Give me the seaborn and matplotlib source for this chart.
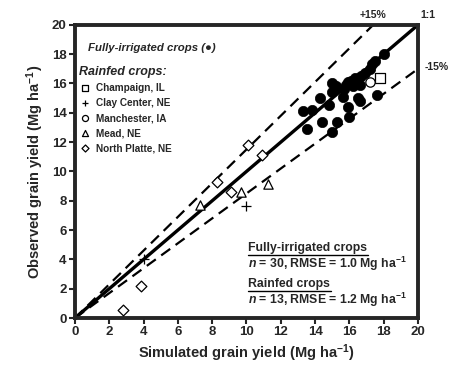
import numpy as np
import pandas as pd
import matplotlib
matplotlib.use("Agg")
import matplotlib.pyplot as plt
import seaborn as sns

# simulated vs observed grain yield (Mg/ha)
irr_sim = [18.0, 17.5, 17.3, 17.2, 16.9, 16.7, 16.3, 16.1, 15.9, 15.8,
           15.0, 15.7, 15.0, 14.3, 15.6, 16.5, 16.6, 17.6, 14.8, 15.9,
           13.3, 13.8, 14.4, 15.3, 16.0, 13.5, 15.0, 16.2, 15.2, 16.6]
irr_obs = [18.0, 17.5, 17.3, 17.0, 16.7, 16.5, 16.4, 16.2, 16.1, 15.9,
           16.0, 15.6, 15.4, 15.0, 15.1, 15.0, 14.8, 15.2, 14.5, 14.4,
           14.1, 14.2, 13.4, 13.4, 13.7, 12.9, 12.7, 15.8, 15.8, 15.9]

sites = ["Champaign, IL", "Clay Center, NE", "Manchester, IA", "Mead, NE", "North Platte, NE"]
rain_site = ["Champaign, IL",
             "Clay Center, NE", "Clay Center, NE",
             "Manchester, IA",
             "Mead, NE", "Mead, NE", "Mead, NE",
             "North Platte, NE", "North Platte, NE", "North Platte, NE",
             "North Platte, NE", "North Platte, NE", "North Platte, NE"]
rain_sim = [17.8, 10.0, 4.0, 17.2, 7.3, 9.7, 11.25, 2.8, 3.85, 8.3, 9.1, 10.1, 10.9]
rain_obs = [16.4, 7.65, 4.0, 16.1, 7.7, 8.6, 9.15, 0.55, 2.2, 9.3, 8.6, 11.8, 11.1]
site_markers = {"Champaign, IL": "s", "Clay Center, NE": "+", "Manchester, IA": "o",
                "Mead, NE": "^", "North Platte, NE": "D"}

irr = pd.DataFrame({"sim": irr_sim, "obs": irr_obs})
rain = pd.DataFrame({"site": rain_site, "sim": rain_sim, "obs": rain_obs})

sns.set_style("ticks")
plt.rcParams["font.family"] = ["Liberation Sans", "DejaVu Sans"]
plt.rcParams["font.weight"] = "bold"
plt.rcParams["mathtext.fontset"] = "custom"
plt.rcParams["mathtext.rm"] = "Liberation Sans:bold"
plt.rcParams["mathtext.it"] = "Liberation Sans:bold:italic"
plt.rcParams["mathtext.bf"] = "Liberation Sans:bold"

fig = plt.figure(figsize=(4.74, 3.76), dpi=100)
ax = fig.add_axes([0.158, 0.154, 0.724, 0.78])

# 1:1 and +/-15% lines
xx = np.array([0, 20])
ax.plot(xx, xx, color="black", lw=2.4, zorder=2)
ax.plot(xx, 1.15 * xx, color="black", lw=1.6, ls=(0, (5, 3)), zorder=2)
ax.plot(xx, 0.85 * xx, color="black", lw=1.6, ls=(0, (5, 3)), zorder=2)

sns.scatterplot(data=irr, x="sim", y="obs", color="black", s=55,
                edgecolor="black", linewidth=0.5, ax=ax, zorder=3, legend=False)

handles = []
for site in sites:
    d = rain[rain["site"] == site]
    m = site_markers[site]
    if m == "+":
        h = ax.scatter(d["sim"], d["obs"], marker=m, s=55, color="black",
                       linewidth=0.9, zorder=4, label=site)
    else:
        sz = 30 if m == "D" else 45
        h = ax.scatter(d["sim"], d["obs"], marker=m, s=sz, facecolors="white",
                       edgecolors="black", linewidth=0.9, zorder=4, label=site)
    handles.append(h)

ax.set_xlim(0, 20)
ax.set_ylim(0, 20)
ax.set_xticks(range(0, 21, 2))
ax.set_yticks(range(0, 21, 2))
ax.tick_params(direction="out", length=4, width=1.5, labelsize=9.5, pad=2)
for lbl in ax.get_xticklabels() + ax.get_yticklabels():
    lbl.set_fontweight("bold")
for sp in ax.spines.values():
    sp.set_linewidth(2.8)
    sp.set_visible(True)

ax.set_xlabel(r"Simulated grain yield (Mg ha$^{-1}$)", fontsize=10.5, fontweight="bold", labelpad=3)
ax.set_ylabel(r"Observed grain yield (Mg ha$^{-1}$)", fontsize=10.5, fontweight="bold", labelpad=4)

ax.text(17.4, 20.35, "+15%", fontsize=7.5, fontweight="bold", ha="center", va="bottom")
ax.text(20.15, 20.3, "1:1", fontsize=7.5, fontweight="bold", ha="left", va="bottom")
ax.text(20.4, 17.1, "-15%", fontsize=7.5, fontweight="bold", ha="left", va="center")

ax.text(0.038, 0.92, "Fully-irrigated crops (\u25cf)", transform=ax.transAxes,
        fontsize=8.2, fontweight="bold", fontstyle="italic", va="center")

leg = ax.legend(handles=handles, loc="upper left", bbox_to_anchor=(0.0, 0.873),
                frameon=False, title="Rainfed crops:", fontsize=7.2,
                title_fontsize=9, handletextpad=0.5, labelspacing=0.5,
                borderaxespad=0, handlelength=1.2, alignment="left",
                markerscale=0.65)
leg.get_title().set_fontstyle("italic")
leg.get_title().set_fontweight("bold")
for t in leg.get_texts():
    t.set_fontweight("bold")

# statistics box, bottom right
ax.text(0.504, 0.239, "Fully-irrigated crops", transform=ax.transAxes,
        fontsize=8.8, fontweight="bold", va="center")
ax.plot([0.504, 0.855], [0.215, 0.215], transform=ax.transAxes, color="black", lw=1)
ax.text(0.504, 0.186, r"$n$ = 30, RMSE = 1.0 Mg ha$^{-1}$", transform=ax.transAxes,
        fontsize=8.8, fontweight="bold", va="center")
ax.text(0.504, 0.116, "Rainfed crops", transform=ax.transAxes,
        fontsize=8.8, fontweight="bold", va="center")
ax.plot([0.504, 0.745], [0.091, 0.091], transform=ax.transAxes, color="black", lw=1)
ax.text(0.504, 0.061, r"$n$ = 13, RMSE = 1.2 Mg ha$^{-1}$", transform=ax.transAxes,
        fontsize=8.8, fontweight="bold", va="center")

fig.savefig("out.png", dpi=100)
